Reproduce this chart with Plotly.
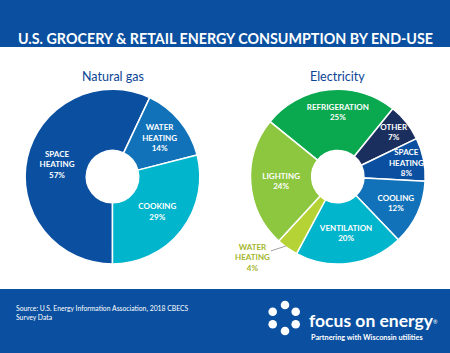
import plotly.graph_objects as go

W, H = 450, 353

# ---- data ----
gas_labels = ["SPACE<br>HEATING", "WATER<br>HEATING", "COOKING"]
gas_values = [57, 14, 29]
gas_colors = ["#0a4fa0", "#1172b9", "#00b5cc"]

elec_labels = ["REFRIGERATION", "OTHER", "SPACE<br>HEATING", "COOLING",
               "VENTILATION", "WATER<br>HEATING", "LIGHTING"]
elec_values = [25, 7, 8, 12, 20, 4, 24]
elec_colors = ["#0aa84f", "#1b2f5e", "#0a4fa0", "#1172b9",
               "#00b5cc", "#b5d334", "#8dc63f"]
elec_textpos = ["inside", "inside", "inside", "inside", "inside", "none", "inside"]

title = "U.S. GROCERY & RETAIL ENERGY CONSUMPTION BY END-USE"
source = "Source: U.S. Energy Information Association, 2018 CBECS<br>Survey Data"

BLUE = "#0a4fa0"
FONT = "Lato"


def py(px):
    return 1 - px / H


def px_(x):
    return x / W


fig = go.Figure()

fig.add_trace(go.Pie(
    labels=gas_labels, values=gas_values, sort=False, direction="clockwise",
    rotation=180, hole=0.3,
    marker=dict(colors=gas_colors, line=dict(color="white", width=1.5)),
    texttemplate="%{label}<br>%{value}%", textposition="inside",
    insidetextorientation="horizontal",
    insidetextfont=dict(family=FONT, size=8, color="white", weight="bold"),
    domain=dict(x=[px_(25), px_(200)], y=[py(264), py(89.3)]),
    showlegend=False, hoverinfo="label+value",
))

fig.add_trace(go.Pie(
    labels=elec_labels, values=elec_values, sort=False, direction="clockwise",
    rotation=-51, hole=0.3,
    marker=dict(colors=elec_colors, line=dict(color="white", width=1.5)),
    texttemplate="%{label}<br>%{value}%", textposition=elec_textpos,
    insidetextorientation="horizontal",
    insidetextfont=dict(family=FONT, size=8, color="white", weight="bold"),
    domain=dict(x=[px_(250), px_(425.7)], y=[py(264), py(89.3)]),
    showlegend=False, hoverinfo="label+value",
))

shapes = [
    dict(type="rect", xref="paper", yref="paper", x0=0, x1=1, y0=py(47), y1=1,
         fillcolor=BLUE, line=dict(width=0), layer="below"),
    dict(type="rect", xref="paper", yref="paper", x0=0, x1=1, y0=0, y1=py(289),
         fillcolor=BLUE, line=dict(width=0), layer="below"),
]
# logo dots
for (cx, cy) in [(285, 305), (272.7, 311.7), (295.7, 311.7),
                 (272.7, 324.3), (295.7, 324.3), (285, 331)]:
    r = 4.3
    shapes.append(dict(type="circle", xref="paper", yref="paper",
                       x0=px_(cx - r), x1=px_(cx + r), y0=py(cy + r), y1=py(cy - r),
                       fillcolor="white", line=dict(width=0)))

annotations = [
    dict(text=f"<b>{title}</b>", x=0.5, y=py(39), xref="paper", yref="paper",
         showarrow=False, font=dict(family=FONT, size=14.3, color="white"),
         xanchor="center", yanchor="middle"),
    dict(text="Natural gas", x=px_(112.5), y=py(77), xref="paper", yref="paper",
         showarrow=False, font=dict(family=FONT, size=12.5, color="#0a4596"),
         xanchor="center", yanchor="middle"),
    dict(text="Electricity", x=px_(337.8), y=py(77), xref="paper", yref="paper",
         showarrow=False, font=dict(family=FONT, size=12.5, color="#0a4596"),
         xanchor="center", yanchor="middle"),
    dict(text="<b>WATER<br>HEATING<br>4%</b>", x=px_(286), y=py(246),
         xref="paper", yref="paper", showarrow=True, arrowhead=0,
         arrowwidth=0.8, arrowcolor="#8a8a8a", ax=-34, ay=11,
         font=dict(family=FONT, size=8, color="#a4b62c"), align="center"),
    dict(text=source, x=px_(14), y=py(312), xref="paper", yref="paper",
         showarrow=False, font=dict(family=FONT, size=6.8, color="white"),
         xanchor="left", yanchor="middle", align="left"),
    dict(text="<b>focus on energy</b><span style='font-size:8px'><sup>®</sup></span>",
         x=px_(307), y=py(320),
         xref="paper", yref="paper", showarrow=False,
         font=dict(family=FONT, size=17.5, color="white"),
         xanchor="left", yanchor="middle"),
    dict(text="<b>Partnering with Wisconsin utilities</b>", x=px_(309), y=py(337.5),
         xref="paper", yref="paper", showarrow=False,
         font=dict(family=FONT, size=7.3, color="white"),
         xanchor="left", yanchor="middle"),
]

fig.update_layout(
    width=W, height=H, margin=dict(l=0, r=0, t=0, b=0),
    paper_bgcolor="white", plot_bgcolor="white",
    shapes=shapes, annotations=annotations,
    uniformtext=dict(minsize=8, mode="show"),
)

fig.write_html("out.html")
